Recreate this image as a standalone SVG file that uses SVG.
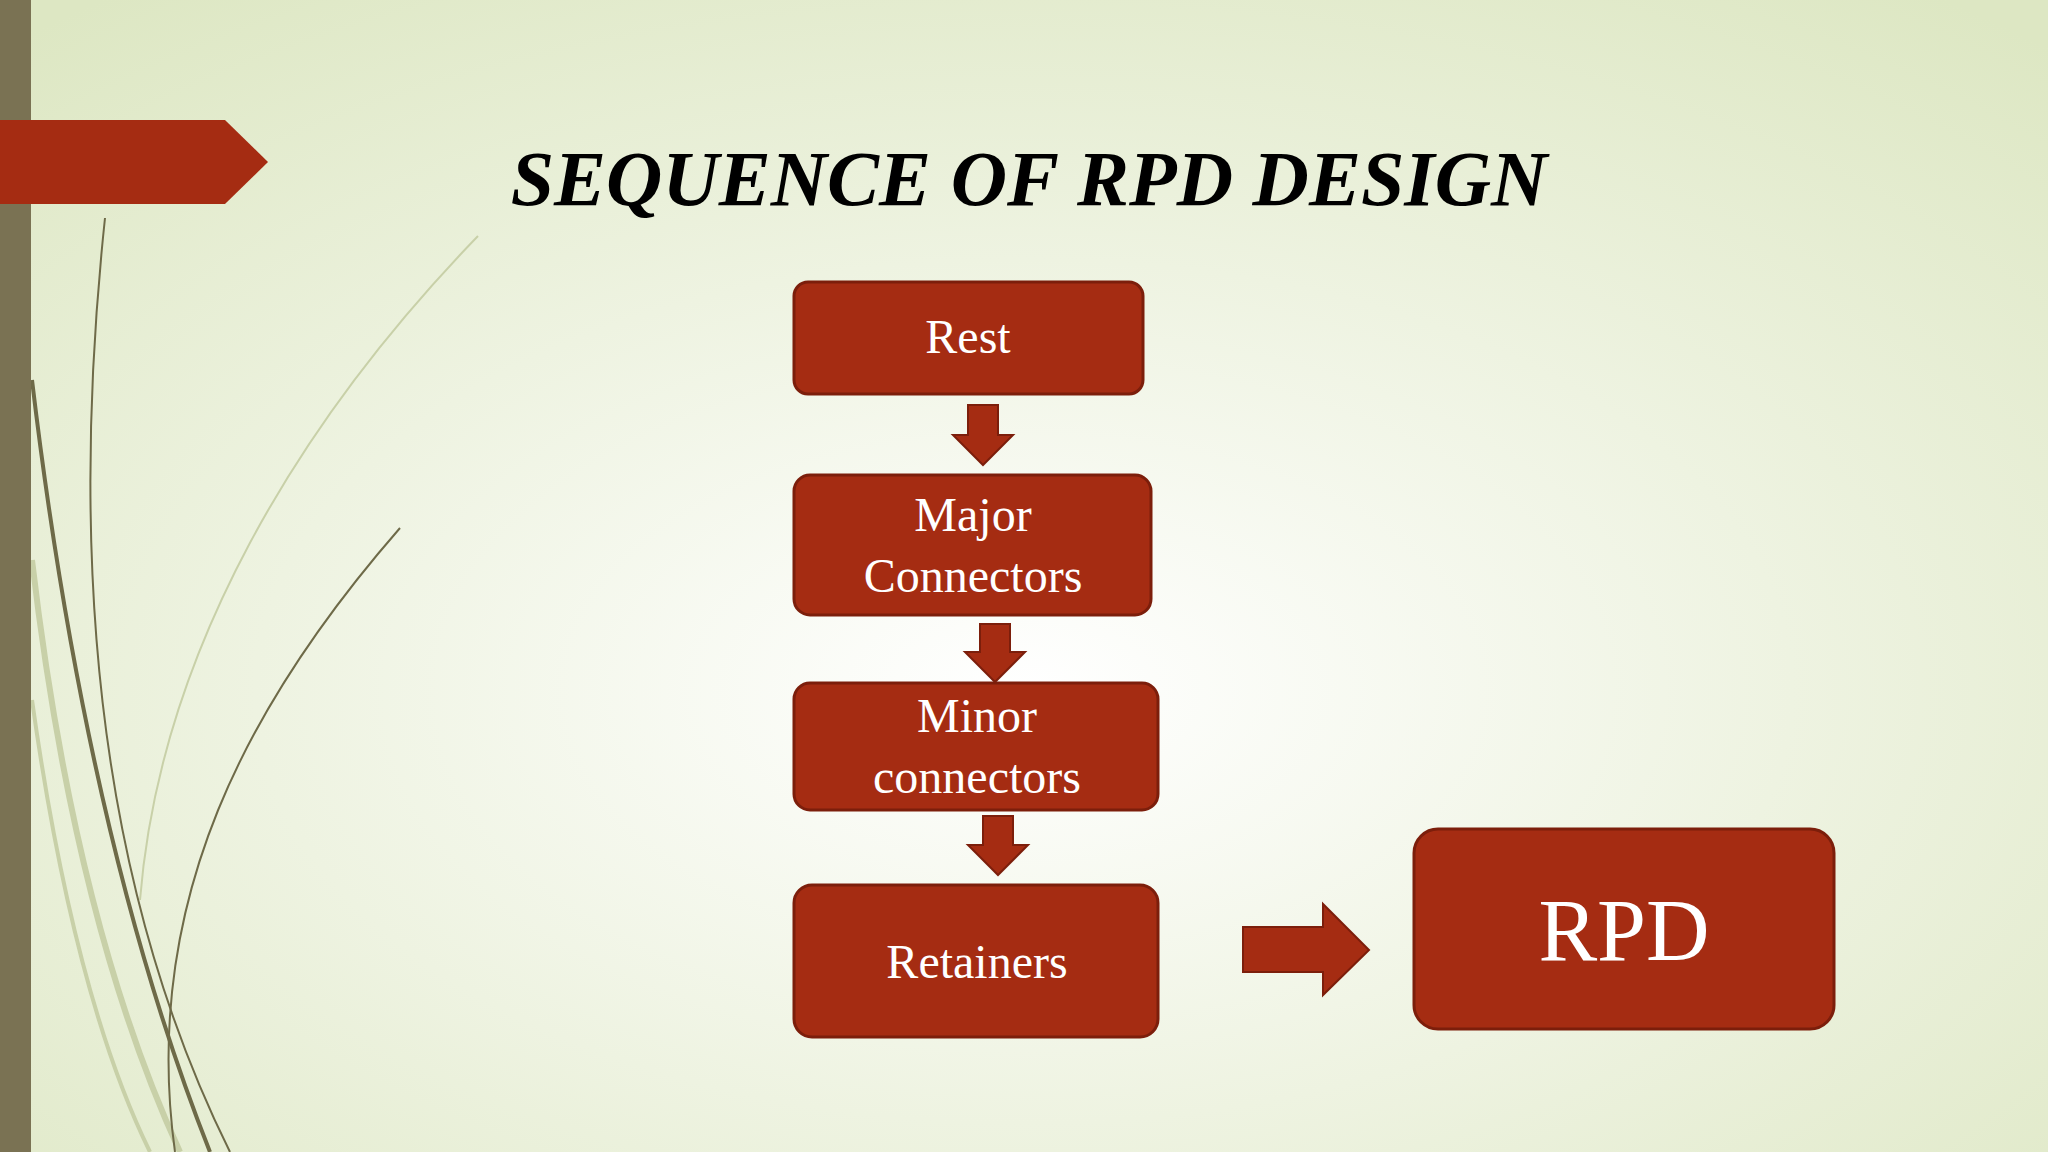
<svg xmlns="http://www.w3.org/2000/svg" width="2048" height="1152" viewBox="0 0 2048 1152">
<defs>
<radialGradient id="bg" cx="0.5" cy="0.6" r="0.75">
<stop offset="0" stop-color="#ffffff"/>
<stop offset="1" stop-color="#dde7c3"/>
</radialGradient>
<style>
.box{fill:#a52c12;stroke:#7c1e0b;stroke-width:3}
.arr{fill:#a52c12;stroke:#7c1e0b;stroke-width:2}
.t{font-family:"Liberation Serif",serif;fill:#ffffff;text-anchor:middle}
.c{fill:none}
</style>
</defs>
<rect width="2048" height="1152" fill="url(#bg)"/>
<g id="decor">
<path class="c" d="M105 218 C75 500 80 850 230 1152" stroke="#6e6a48" stroke-width="2"/>
<path class="c" d="M32 380 C70 700 130 950 210 1152" stroke="#6e6a48" stroke-width="4"/>
<path class="c" d="M32 560 C60 800 110 1000 180 1152" stroke="#c8d0a8" stroke-width="6"/>
<path class="c" d="M32 700 C60 900 100 1050 150 1152" stroke="#c8d0a8" stroke-width="4"/>
<path class="c" d="M400 528 C250 700 140 900 175 1152" stroke="#6e6a48" stroke-width="2"/>
<path class="c" d="M478 236 C300 420 160 650 140 900" stroke="#c8d0a8" stroke-width="2"/>
<rect x="0" y="0" width="31" height="1152" fill="#7a7253"/>
<path d="M0 120 H225 L268 162 L225 204 H0 Z" fill="#a52c12"/>
</g>
<text x="1029" y="205" font-family="Liberation Serif,serif" font-weight="bold" font-style="italic" font-size="78" text-anchor="middle" fill="#000">SEQUENCE OF RPD DESIGN</text>
<g id="connectors">
<path class="arr" d="M968 405 H998 V435 H1013 L983 465 L953 435 H968 Z"/>
<path class="arr" d="M980 624 H1010 V652 H1025 L995 682 L965 652 H980 Z"/>
<path class="arr" d="M983 816 H1013 V845 H1028 L998 875 L968 845 H983 Z"/>
<path class="arr" d="M1243 927 H1323 V904 L1369 950 L1323 995 V972 H1243 Z"/>
</g>
<g id="rest"><rect class="box" x="794" y="282" width="349" height="112" rx="14"/><text class="t" x="968" y="353" font-size="48">Rest</text></g>
<g id="major"><rect class="box" x="794" y="475" width="357" height="140" rx="16"/><text class="t" x="973" y="531" font-size="48">Major</text><text class="t" x="973" y="592" font-size="48">Connectors</text></g>
<g id="minor"><rect class="box" x="794" y="683" width="364" height="127" rx="16"/><text class="t" x="977" y="732" font-size="48">Minor</text><text class="t" x="977" y="793" font-size="48">connectors</text></g>
<g id="retainers"><rect class="box" x="794" y="885" width="364" height="152" rx="18"/><text class="t" x="977" y="978" font-size="48">Retainers</text></g>
<g id="rpd"><rect class="box" x="1414" y="829" width="420" height="200" rx="24"/><text class="t" x="1624" y="960" font-size="88">RPD</text></g>
</svg>
